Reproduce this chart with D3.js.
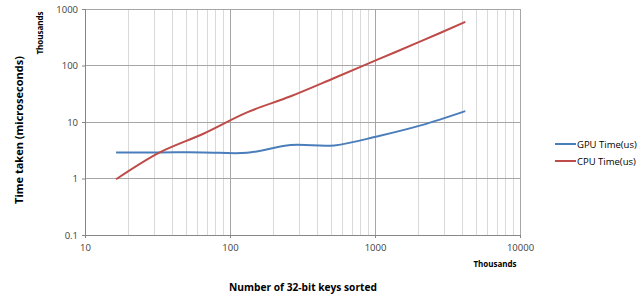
<!DOCTYPE html>
<html>
<head>
<meta charset="utf-8">
<script src="https://cdn.jsdelivr.net/npm/d3@7"></script>
<style>
  body { margin: 0; background: #fff; }
  text { font-family: "Open Sans", "Liberation Sans", sans-serif; }
</style>
</head>
<body>
<div id="chart"></div>
<script>
// keys sorted (thousands)
const keys = [16.384, 32.768, 65.536, 131.072, 262.144, 524.288, 1048.576, 2097.152, 4194.304];
// time taken (thousands of microseconds)
const gpuTime = [2.9, 2.9, 2.9, 2.85, 3.9, 3.85, 5.6, 8.8, 15.6];
const cpuTime = [0.97, 2.9, 6.2, 14.8, 28.5, 60, 128, 272, 590];
const seriesNames = ["GPU Time(us)", "CPU Time(us)"];
const seriesColors = ["#4a7ebb", "#be4b48"];
const xTicks = [10, 100, 1000, 10000];
const yTicks = [0.1, 1, 10, 100, 1000];

const width = 640, height = 302;
const margin = {top: 9, right: 120, bottom: 67, left: 85};

const svg = d3.select("#chart")
    .append("svg")
    .attr("width", width)
    .attr("height", height);

const x = d3.scaleLog()
    .domain([10, 10000])
    .range([margin.left, width - margin.right]);

const y = d3.scaleLog()
    .domain([0.1, 1000])
    .range([height - margin.bottom, margin.top]);

// minor grid lines
let minorX = [];
for (let d = 10; d < 10000; d *= 10) {
    for (let k = 2; k <= 9; k++) minorX.push(d * k);
}

svg.append("g")
    .selectAll("line")
    .data(minorX)
    .enter()
    .append("line")
    .attr("x1", d => x(d))
    .attr("x2", d => x(d))
    .attr("y1", y(0.1))
    .attr("y2", y(1000))
    .attr("stroke", "#d9d9d9")
    .attr("stroke-width", 1)
    .attr("shape-rendering", "crispEdges");

// major grid lines
svg.append("g")
    .selectAll("line")
    .data(xTicks.slice(1))
    .enter()
    .append("line")
    .attr("x1", d => x(d))
    .attr("x2", d => x(d))
    .attr("y1", y(0.1))
    .attr("y2", y(1000))
    .attr("stroke", "#a6a6a6")
    .attr("shape-rendering", "crispEdges");

svg.append("g")
    .selectAll("line")
    .data(yTicks.slice(1))
    .enter()
    .append("line")
    .attr("x1", x(10))
    .attr("x2", x(10000))
    .attr("y1", d => y(d))
    .attr("y2", d => y(d))
    .attr("stroke", "#a6a6a6")
    .attr("shape-rendering", "crispEdges");

// axes
const xAxis = svg.append("g")
    .attr("transform", `translate(0,${y(0.1)})`)
    .call(d3.axisBottom(x).tickValues(xTicks).tickFormat(d3.format("d")).tickSize(3).tickPadding(6));

const yAxis = svg.append("g")
    .attr("transform", `translate(${x(10)},0)`)
    .call(d3.axisLeft(y).tickValues(yTicks).tickFormat(d => d).tickSize(3).tickPadding(4));

[xAxis, yAxis].forEach(a => {
    a.select(".domain").attr("stroke", "#868686");
    a.selectAll(".tick line").attr("stroke", "#868686");
    a.selectAll(".tick text")
        .attr("fill", "#404040")
        .attr("font-size", "9.5px")
        .style("font-family", "'Open Sans', sans-serif");
});

// series lines
const line = d3.line()
    .x(d => x(d[0]))
    .y(d => y(d[1]))
    .curve(d3.curveCatmullRom.alpha(0.5));

[gpuTime, cpuTime].forEach((vals, i) => {
    svg.append("path")
        .datum(keys.map((k, j) => [k, vals[j]]))
        .attr("fill", "none")
        .attr("stroke", seriesColors[i])
        .attr("stroke-width", 2)
        .attr("d", line);
});

// axis titles
svg.append("text")
    .attr("transform", `translate(23,${(y(0.1) + y(1000)) / 2 + 8}) rotate(-90)`)
    .attr("text-anchor", "middle")
    .attr("font-size", "11px")
    .attr("font-weight", 700)
    .attr("fill", "#000")
    .text("Time taken (microseconds)");

svg.append("text")
    .attr("transform", "translate(43,33) rotate(-90)")
    .attr("text-anchor", "middle")
    .attr("font-size", "8px")
    .attr("font-weight", 700)
    .attr("fill", "#000")
    .text("Thousands");

svg.append("text")
    .attr("x", 303)
    .attr("y", 291)
    .attr("text-anchor", "middle")
    .attr("font-size", "10.2px")
    .attr("font-weight", 700)
    .attr("fill", "#000")
    .text("Number of 32-bit keys sorted");

svg.append("text")
    .attr("x", 495)
    .attr("y", 267)
    .attr("text-anchor", "middle")
    .attr("font-size", "8px")
    .attr("font-weight", 700)
    .attr("fill", "#000")
    .text("Thousands");

// legend
const legend = svg.append("g")
    .attr("transform", "translate(555,144)");

seriesNames.forEach((name, i) => {
    let g = legend.append("g").attr("transform", `translate(0,${i * 17})`);
    g.append("line")
        .attr("x1", 0)
        .attr("x2", 21)
        .attr("stroke", seriesColors[i])
        .attr("stroke-width", 2);
    g.append("text")
        .attr("x", 22)
        .attr("y", 3.5)
        .attr("font-size", "9.5px")
        .attr("fill", "#000")
        .text(name);
});
</script>
</body>
</html>
